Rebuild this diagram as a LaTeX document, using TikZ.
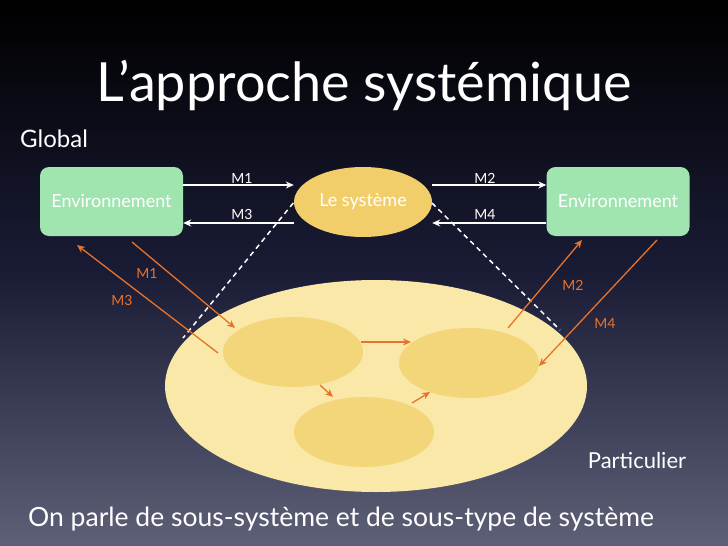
\documentclass[tikz,border=0pt]{standalone}
\usepackage{fontspec}
\setmainfont{Lato}
\usetikzlibrary{arrows.meta,shapes.geometric,shadows}
\definecolor{bgtop}{RGB}{0,0,0}
\definecolor{bgmid}{RGB}{26,28,54}
\definecolor{bgbot}{RGB}{94,96,120}
\definecolor{envgreen}{RGB}{160,228,176}
\definecolor{sysyellow}{RGB}{242,206,106}
\definecolor{bigyellow}{RGB}{250,232,168}
\definecolor{subyellow}{RGB}{243,214,122}
\definecolor{orangearr}{RGB}{232,114,42}
\tikzset{
  envbox/.style={draw=none, fill=envgreen, rounded corners=9pt, minimum width=143pt, minimum height=69pt, text=white, font=\fontsize{18}{20}\selectfont},
  sysell/.style={ellipse, draw=none, fill=sysyellow, minimum width=138pt, minimum height=70pt, inner sep=0pt, text=white, font=\fontsize{18}{20}\selectfont},
  subell/.style={ellipse, draw=none, fill=subyellow, minimum width=140pt, minimum height=70pt, inner sep=0pt},
  whitearr/.style={draw=white, line width=1.3pt, -{Stealth[length=8pt,width=7pt]}},
  orarr/.style={draw=orangearr, line width=1.3pt, -{Stealth[length=8pt,width=7pt]}},
  wlabel/.style={text=white, font=\fontsize{14}{16}\selectfont, inner sep=0pt},
  olabel/.style={text=orangearr, font=\fontsize{14}{16}\selectfont, inner sep=0pt},
  dashline/.style={draw=white, line width=1.5pt, dash pattern=on 5pt off 4pt},
}
\begin{document}
\begin{tikzpicture}[x=1pt,y=-1pt]
\useasboundingbox (0,0) rectangle (728,546);
\shade[top color=bgtop, bottom color=bgmid] (0,0) rectangle (728,273.5);
\shade[top color=bgmid, bottom color=bgbot] (0,273) rectangle (728,546);

% title
\node[text=white, font=\fontsize{54}{58}\selectfont, anchor=base] (title) at (364,101) {L’approche systémique};
\node[text=white, font=\fontsize{24}{26}\selectfont, anchor=base west, inner sep=0pt] (global) at (20,147) {Global};

% big ellipse
\node[ellipse, fill=bigyellow, draw=none, minimum width=422pt, minimum height=212pt, inner sep=0pt] (big) at (376,386) {};

% dashed projection lines
\coordinate (dl1) at (299,196);
\coordinate (dl2) at (183,338);
\coordinate (dr1) at (432,203);
\coordinate (dr2) at (560,330);
\draw[dashline] (dl1) -- (dl2);
\draw[dashline] (dr1) -- (dr2);

% top row
\node[envbox] (envL) at (111.5,201.5) {Environnement};
\node[envbox] (envR) at (618,201.5) {Environnement};
\node[sysell] (sys) at (363,202) {Le système};

\draw[whitearr] (envL.east |- 0,185) -- (sys.west |- 0,185);
\draw[whitearr] (sys.west |- 0,223) -- (envL.east |- 0,223);
\draw[whitearr] (sys.east |- 0,185) -- (envR.west |- 0,185);
\draw[whitearr] (envR.west |- 0,223) -- (sys.east |- 0,223);
\node[wlabel] (lm1) at (242,178) {M1};
\node[wlabel] (lm3) at (242,214) {M3};
\node[wlabel] (lm2) at (485,178) {M2};
\node[wlabel] (lm4) at (485,214) {M4};

% sub-systems
\node[subell] (sa) at (293,352) {};
\node[subell] (sb) at (469,363) {};
\node[subell] (sc) at (364,432) {};

\draw[orarr] (361,342) -- (411,342);
\draw[orarr] (320,385) -- (333,397);
\draw[orarr] (412,403) -- (430,392);

% orange exchange arrows
\coordinate (o1s) at (132,242);
\coordinate (o1e) at (235,328);
\coordinate (o3s) at (218,353);
\coordinate (o3e) at (77,245);
\coordinate (o2s) at (508,328);
\coordinate (o2e) at (582,240);
\coordinate (o4s) at (657,240);
\coordinate (o4e) at (539,366);
\draw[orarr] (o1s) -- (o1e);
\draw[orarr] (o3s) -- (o3e);
\draw[orarr] (o2s) -- (o2e);
\draw[orarr] (o4s) -- (o4e);
\node[olabel] (om1) at (147,273) {M1};
\node[olabel] (om3) at (122,300) {M3};
\node[olabel] (om2) at (573,285) {M2};
\node[olabel] (om4) at (605,323) {M4};

\node[text=white, font=\fontsize{22}{24}\selectfont, anchor=base, inner sep=0pt] (part) at (637,468) {Particulier};
\node[text=white, font=\fontsize{26.5}{29}\selectfont, anchor=base west, inner sep=0pt] (bottom) at (28,526) {On parle de sous-système et de sous-type de système};
\end{tikzpicture}
\end{document}
